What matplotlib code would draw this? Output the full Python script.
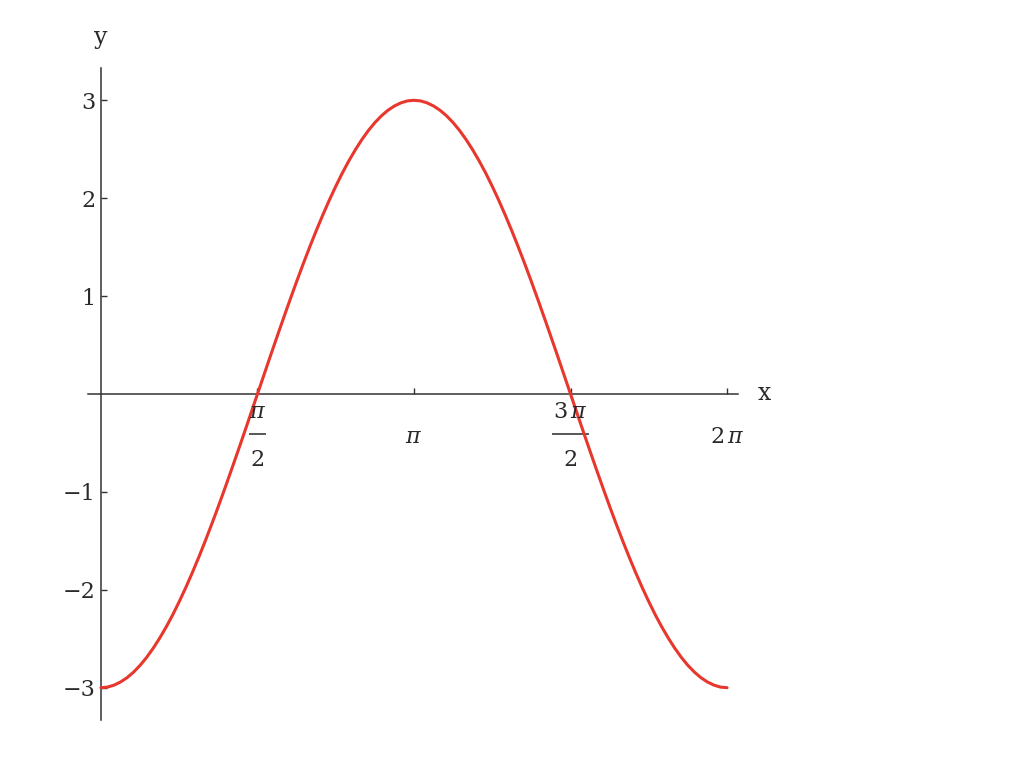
import numpy as np
import matplotlib
matplotlib.use("Agg")
import matplotlib.pyplot as plt
from matplotlib.transforms import offset_copy

plt.rcParams['font.family'] = ['DejaVu Serif']
plt.rcParams['mathtext.fontset'] = 'dejavuserif'

# curve samples, every pi/48 from 0 to 2*pi
y_vals = [-3.000, -2.994, -2.974, -2.942, -2.898, -2.841, -2.772, -2.691,
          -2.598, -2.494, -2.380, -2.256, -2.121, -1.978, -1.826, -1.667,
          -1.500, -1.327, -1.148, -0.964, -0.776, -0.585, -0.392, -0.196,
          0.000, 0.196, 0.392, 0.585, 0.776, 0.964, 1.148, 1.327,
          1.500, 1.667, 1.826, 1.978, 2.121, 2.256, 2.380, 2.494,
          2.598, 2.691, 2.772, 2.841, 2.898, 2.942, 2.974, 2.994,
          3.000, 2.994, 2.974, 2.942, 2.898, 2.841, 2.772, 2.691,
          2.598, 2.494, 2.380, 2.256, 2.121, 1.978, 1.826, 1.667,
          1.500, 1.327, 1.148, 0.964, 0.776, 0.585, 0.392, 0.196,
          0.000, -0.196, -0.392, -0.585, -0.776, -0.964, -1.148, -1.327,
          -1.500, -1.667, -1.826, -1.978, -2.121, -2.256, -2.380, -2.494,
          -2.598, -2.691, -2.772, -2.841, -2.898, -2.942, -2.974, -2.994,
          -3.000]
x_vals = np.linspace(0, 2 * np.pi, len(y_vals))

x_ticks = [np.pi / 2, np.pi, 3 * np.pi / 2, 2 * np.pi]
# (numerator, denominator) for fraction ticks, None for plain labels
x_tick_fracs = [(r'$\pi$', '2'), None, (r'$3\,\pi$', '2'), None]
x_tick_plain = ['', r'$\pi$', '', r'$2\,\pi$']
y_ticks = [-3, -2, -1, 1, 2, 3]
y_tick_labels = ['\u22123', '\u22122', '\u22121', '1', '2', '3']

axis_col = '#333333'
text_col = '#2a2a2a'

fig = plt.figure(figsize=(10.33, 7.63), dpi=100)
ax = fig.add_axes([88 / 1033, 43 / 763, 650 / 1033, 652 / 763])

ax.plot(x_vals, y_vals, color='#e8372c', lw=2.2, solid_capstyle='round',
        solid_joinstyle='round', clip_on=False, zorder=3)

ax.set_xlim(-0.13, 2 * np.pi + 0.11)
ax.set_ylim(-3.33, 3.33)

for side in ['top', 'right']:
    ax.spines[side].set_visible(False)
ax.spines['left'].set_position(('data', 0))
ax.spines['bottom'].set_position(('data', 0))
for side in ['left', 'bottom']:
    ax.spines[side].set_color(axis_col)
    ax.spines[side].set_linewidth(1.1)

ax.set_xticks(x_ticks)
ax.set_xticklabels(x_tick_plain, fontsize=16)
ax.set_yticks(y_ticks)
ax.set_yticklabels(y_tick_labels, fontsize=16)
ax.tick_params(axis='both', direction='in', length=4, width=1.0, color=axis_col,
               labelcolor=text_col)
ax.tick_params(axis='x', pad=31)
ax.tick_params(axis='y', pad=4)
for lbl in ax.get_xticklabels():
    lbl.set_va('center')

# stacked fractions drawn Mathematica style: numerator, bar, denominator
bar_tr = offset_copy(ax.transData, fig=fig, x=0, y=-40, units='dots')
for xt, frac in zip(x_ticks, x_tick_fracs):
    if frac is None:
        continue
    num, den = frac
    ax.annotate(num, (xt, 0), xytext=(0, -18), textcoords='offset pixels',
                ha='center', va='center', fontsize=16, color=text_col,
                annotation_clip=False)
    ax.annotate(den, (xt, 0), xytext=(0, -66), textcoords='offset pixels',
                ha='center', va='center', fontsize=16, color=text_col,
                annotation_clip=False)
    half = 0.09 if len(num) < 6 else 0.185
    ax.plot([xt - half, xt + half], [0, 0], color=text_col, lw=1.1,
            transform=bar_tr, clip_on=False, solid_capstyle='butt')

ax.text(0, 3.64, 'y', fontsize=17, ha='center', va='center', color=text_col, clip_on=False)
ax.text(6.657, 0, 'x', fontsize=17, ha='center', va='center', color=text_col, clip_on=False)

fig.savefig('out.png', dpi=100, facecolor='white')
